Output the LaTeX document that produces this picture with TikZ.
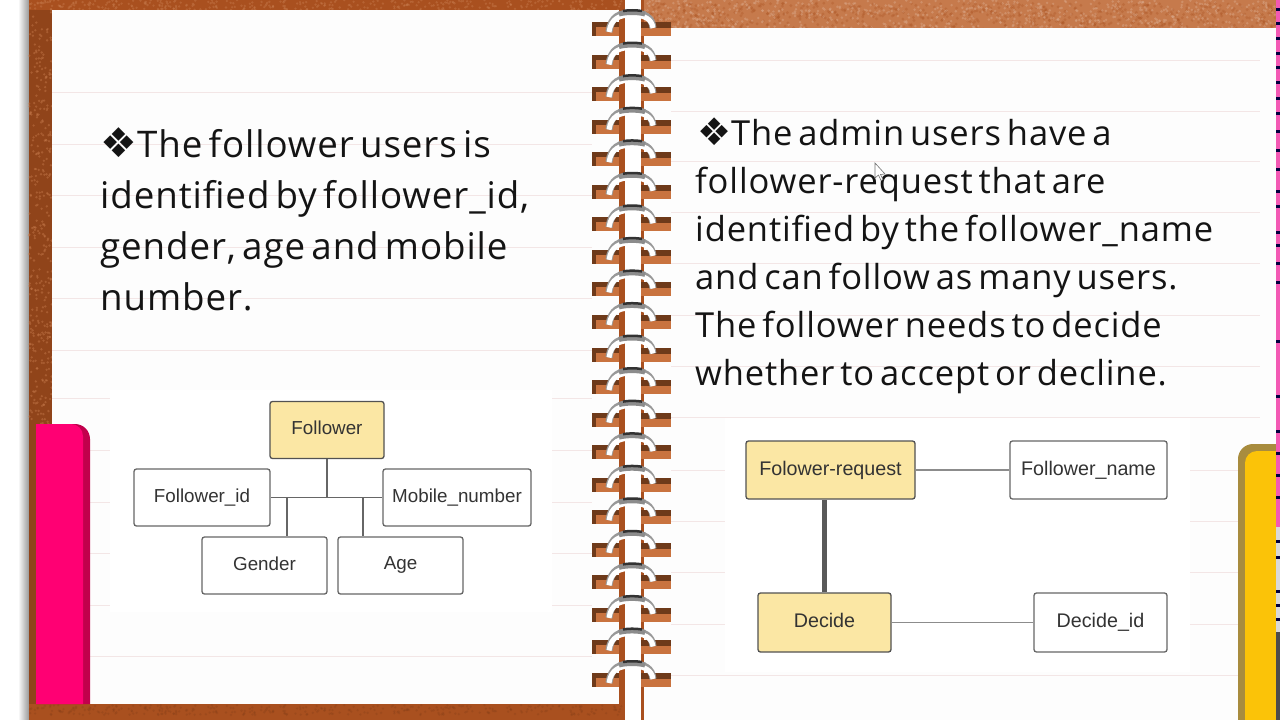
\documentclass[tikz,border=0pt]{standalone}
\usepackage{fontspec}
\setmainfont{Open Sans}[LetterSpace=2.5, WordSpace=0.6]
\newfontfamily\boxfont{Liberation Sans}
\newfontfamily\bulletfont{DejaVu Sans}
\usetikzlibrary{positioning}
\definecolor{framebrown}{HTML}{A9501F}
\definecolor{frametop}{HTML}{C67A4C}
\definecolor{holedark}{HTML}{6E3A1A}
\definecolor{holefill}{HTML}{C9733F}
\definecolor{boxline}{HTML}{666666}
\definecolor{boxyellow}{HTML}{FBE7A4}
\definecolor{ruleline}{HTML}{F3E6E6}
\definecolor{pagewhite}{HTML}{FDFDFD}
\tikzset{
    attrbox/.style={draw=boxline, line width=1.3pt, rounded corners=2.5pt, fill=white, inner sep=0pt,
        font=\boxfont\fontsize{18.8}{20}\selectfont, text=black!80},
    entitybox/.style={attrbox, fill=boxyellow, draw=boxline!80!black},
    widebox/.style={font=\boxfont\fontsize{19.7}{21}\selectfont},
    thinlink/.style={draw=black!45, line width=1.3pt},
    pagetext/.style={align=left, anchor=north west, inner sep=0pt, text=black!92},
}
\begin{document}
\begin{tikzpicture}[x=1pt, y=-1pt]
    \useasboundingbox (0,0) rectangle (1280,720);
    \fill[white] (0,0) rectangle (1280,720);
    % frame and pages
    \shade[left color=white, right color=black!40] (18,0) rectangle (29,720);
    \fill[framebrown] (29,0) rectangle (625,720);
    \fill[framebrown!85!black] (29,10) rectangle (52,704);
    \fill[frametop] (641,0) rectangle (1280,30);
    \fill[framebrown] (641,0) rectangle (644,720);
    % grain of the frame
    \pgfmathsetseed{42}
    \foreach \speck in {1,...,700} {
        \pgfmathsetmacro{\speckx}{644+rnd*632}
        \pgfmathsetmacro{\specky}{rnd*28}
        \fill[frametop!65!white, opacity=0.45] (\speckx,\specky) circle (1.4);
        \fill[framebrown, opacity=0.3] (\speckx+5,\specky+3) circle (1.6);
    }
    \foreach \speck in {1,...,350} {
        \pgfmathsetmacro{\speckx}{29+rnd*23}
        \pgfmathsetmacro{\specky}{rnd*424}
        \fill[frametop, opacity=0.45] (\speckx,\specky) circle (1.3);
    }
    \foreach \speck in {1,...,350} {
        \pgfmathsetmacro{\speckx}{29+rnd*596}
        \pgfmathsetmacro{\specky}{rnd*10}
        \fill[frametop, opacity=0.45] (\speckx,\specky) circle (1.3);
        \fill[framebrown!80!black, opacity=0.35] (\speckx,\specky+705) circle (1.3);
    }
    \fill[pagewhite] (52,10) rectangle (619,704);
    \fill[pagewhite] (644,33) rectangle (1276,720);
    \fill[pagewhite] (671,28) rectangle (1276,33);
    % rules on the pages
    \foreach \ruley in {92,144,195,247,298,350,398,450,502,553,605,656}
        \draw[ruleline] (52,\ruley) -- (592,\ruley);
    \foreach \ruley in {60,111,161,212,263,315,366,417,470,521,572,624,675}
        \draw[ruleline] (671,\ruley) -- (1260,\ruley);
    \fill[white] (110,390) rectangle (552,612);
    \fill[white] (725,418) rectangle (1190,672);
    % tabs
    \fill[framebrown!85!black] (29,424) rectangle (36,704);
    \fill[black!35!red!70!magenta] (36,704) -- (36,424) [rounded corners=15pt] -- (90,424) [sharp corners] -- (90,704) -- cycle;
    \fill[red!55!magenta] (36,704) -- (36,424) [rounded corners=12pt] -- (83,424) [sharp corners] -- (83,704) -- cycle;
    \fill[black!45!yellow!85!red] (1276,720) -- (1276,444) [rounded corners=15pt] -- (1238,444) [sharp corners] -- (1238,720) -- cycle;
    \fill[yellow!78!red] (1276,720) -- (1276,451) [rounded corners=12pt] -- (1245,451) [sharp corners] -- (1245,720) -- cycle;
    % spiral
    \foreach \ringno in {0,...,20} {
        \pgfmathsetmacro{\ringy}{29+32.55*\ringno}
        \fill[holefill] (592,\ringy-7) rectangle (619,\ringy+7);
        \fill[holedark] (592,\ringy-7) rectangle (619,\ringy-2);
        \fill[holedark] (592,\ringy-7) rectangle (596,\ringy+7);
        \fill[holefill] (641,\ringy-7) rectangle (671,\ringy+7);
        \fill[holedark] (641,\ringy-7) rectangle (671,\ringy-1);
        \draw[black!40, line width=7pt] (609,\ringy+3) .. controls (611,\ringy-13) and (620,\ringy-16) .. (632,\ringy-16) .. controls (644,\ringy-16) and (652,\ringy-12) .. (653,\ringy-1);
        \draw[white, line width=5pt] (609,\ringy+3) .. controls (611,\ringy-11) and (620,\ringy-14) .. (632,\ringy-14) .. controls (644,\ringy-14) and (652,\ringy-10) .. (653,\ringy-1);
        \draw[black!45, line width=5pt] (619,\ringy-15) .. controls (626,\ringy-17) and (638,\ringy-17) .. (645,\ringy-15);
        \draw[black!80, line width=2.5pt] (623,\ringy-18) .. controls (628,\ringy-19) and (636,\ringy-19) .. (642,\ringy-18);
    }
    % glitch on the edge
    \fill[magenta!65] (1276,0) rectangle (1280,527);
    \fill[black!15] (1276,527) rectangle (1280,632);
    \fill[black!70] (1276,632) rectangle (1280,720);
    \foreach \stripey in {8,22,37,52,66,81,97,112,130,149,168,190,205,231,244,262,281,340,395,430,452,474,496,540,556,590,604,618}
        \fill[black!75!blue] (1276,\stripey) rectangle (1280,\stripey+3);
    % texts
    \node[pagetext, font=\fontsize{36.7}{51.2}\selectfont] (leftnote) at (100,127) {\makebox[37pt][l]{\bulletfont\fontsize{41}{41}\selectfont ❖}The follower users is\\identified by follower\_id,\\gender, age and mobile\\number.};
    \node[pagetext, font=\fontsize{34.5}{48}\selectfont] (rightnote) at (695,118) {\hspace{2pt}\makebox[34pt][l]{\bulletfont\fontsize{38}{38}\selectfont ❖}The admin users have a\\follower-request that are\\identified by the follower\_name\\and can follow as many users.\\The follower needs to decide\\whether to accept or decline.};
    % follower diagram
    \node[entitybox, minimum width=114pt, minimum height=57pt] (follower) at (327,430) {\raisebox{4pt}{Follower}};
    \node[attrbox, minimum width=136pt, minimum height=57pt] (followerid) at (202,497.5) {\raisebox{4pt}{Follower\_id}};
    \node[attrbox, minimum width=148pt, minimum height=57pt] (mobilenumber) at (457,497.5) {\raisebox{4pt}{Mobile\_number}};
    \node[attrbox, minimum width=125pt, minimum height=57pt] (gender) at (264.5,565.5) {\raisebox{4pt}{Gender}};
    \node[attrbox, minimum width=125pt, minimum height=57pt] (age) at (400.5,565.5) {\raisebox{4pt}{Age}};
    \coordinate (gendertap) at (287,497.5);
    \coordinate (agetap) at (363,497.5);
    \draw[thinlink, draw=boxline] (follower.south) |- (followerid.east);
    \draw[thinlink, draw=boxline] (follower.south) |- (mobilenumber.west);
    \draw[thinlink, draw=boxline] (gendertap) -- (gendertap |- gender.north);
    \draw[thinlink, draw=boxline] (agetap) -- (agetap |- age.north);
    % request diagram
    \node[entitybox, widebox, minimum width=169pt, minimum height=58pt] (request) at (830.5,470) {\raisebox{4pt}{Folower-request}};
    \node[attrbox, widebox, minimum width=157pt, minimum height=58pt] (followername) at (1088.5,470) {\raisebox{4pt}{Follower\_name}};
    \node[entitybox, widebox, minimum width=133pt, minimum height=59pt] (decide) at (824.5,622.5) {\raisebox{4pt}{Decide}};
    \node[attrbox, widebox, minimum width=133pt, minimum height=59pt] (decideid) at (1100.5,622.5) {\raisebox{4pt}{Decide\_id}};
    \draw[thinlink] (request) -- (followername);
    \draw[thinlink] (decide) -- (decideid);
    \draw[draw=black!65, line width=5pt] (decide.north) -- (decide.north |- request.south);
    % pointer
    \draw[black!55, fill=white, line width=0.6pt] (875,163) -- (875,178) -- (878.5,175) -- (881,180.5) -- (883,179.5) -- (880.5,174.5) -- (885,174) -- cycle;
\end{tikzpicture}
\end{document}
